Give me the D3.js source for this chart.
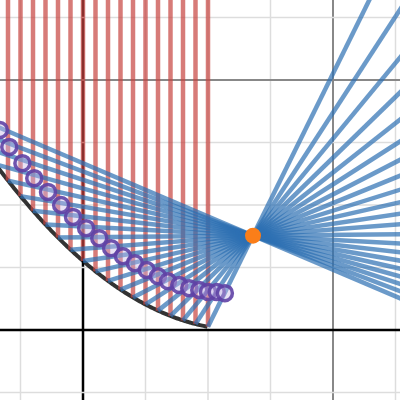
<!DOCTYPE html><html><head><script src="https://d3js.org/d3.v7.min.js"></script>
<style>body{margin:0}svg{display:block}</style></head><body><script>
const redX=[-1.2,-1,-0.8,-0.6,-0.4,-0.2,0,0.2,0.4,0.6,0.8,1,1.2,1.4,1.6,1.8,2];
const blueX=[-2,-1.8,-1.6,-1.4,-1.2,-1,-0.8,-0.6,-0.4,-0.2,0,0.2,0.4,0.6,0.8,1,1.2,1.4,1.6,1.8,2];
const focus=[2.72,1.51];
const purple=[[-1.33,3.2],[-1.18,2.93],[-0.97,2.67],[-0.78,2.43],[-0.56,2.21],[-0.35,2.0],[-0.16,1.81],[0.05,1.63],[0.26,1.47],[0.45,1.31],[0.64,1.18],[0.83,1.07],[1.02,0.96],[1.2,0.86],[1.36,0.78],[1.54,0.72],[1.7,0.67],[1.86,0.64],[2.0,0.61],[2.14,0.61],[2.27,0.59]];
const A=0.17,H=2.55;
const f=x=>A*(x-H)*(x-H);
const W=400;
const x=d3.scaleLinear().domain([-1.328,5.072]).range([0,W]);
const y=d3.scaleLinear().domain([-1.12,5.28]).range([W,0]);
const svg=d3.select("body").append("svg").attr("width",W).attr("height",W);
svg.append("rect").attr("width",W).attr("height",W).attr("fill","#fff");
const g=svg.append("g");
const ticks=d3.range(-1,6);
g.selectAll(".vx").data(ticks).join("line").attr("x1",d=>x(d)).attr("x2",d=>x(d)).attr("y1",0).attr("y2",W)
 .attr("stroke",d=>d===0?"#000":d%4===0?"#888":"#ddd").attr("stroke-width",d=>d===0?2.5:d%4===0?2:1.5);
const ticksY=d3.range(-1,6);
g.selectAll(".hy").data(ticksY).join("line").attr("y1",d=>y(d)).attr("y2",d=>y(d)).attr("x1",0).attr("x2",W)
 .attr("stroke",d=>d===0?"#000":d%4===0?"#888":"#ddd").attr("stroke-width",d=>d===0?2.5:d%4===0?2:1.5);
const cx=d3.range(-1.35,2.001,0.02);
svg.append("path").attr("d",d3.line().x(d=>x(d)).y(d=>y(f(d)))(cx)).attr("fill","none").attr("stroke","#000").attr("stroke-width",4).attr("opacity",0.8);
svg.selectAll(".r").data(redX).join("line").attr("x1",d=>x(d)).attr("x2",d=>x(d)).attr("y1",0).attr("y2",d=>y(f(d)))
 .attr("stroke","#c74440").attr("stroke-width",4.5).attr("opacity",0.7);
svg.selectAll(".b").data(blueX).join("line")
 .attr("x1",d=>x(d)).attr("y1",d=>y(f(d)))
 .attr("x2",d=>x(d+(focus[0]-d)*6)).attr("y2",d=>y(f(d)+(focus[1]-f(d))*6))
 .attr("stroke","#2d70b3").attr("stroke-width",4.5).attr("opacity",0.7);
svg.selectAll(".p").data(purple).join("circle").attr("cx",d=>x(d[0])).attr("cy",d=>y(d[1])).attr("r",7.5)
 .attr("fill","rgba(200,185,230,0.45)").attr("stroke","#6042a6").attr("stroke-width",3.5).attr("opacity",0.9);
svg.append("circle").attr("cx",x(focus[0])).attr("cy",y(focus[1])).attr("r",8).attr("fill","#fa7e19");
</script></body></html>
